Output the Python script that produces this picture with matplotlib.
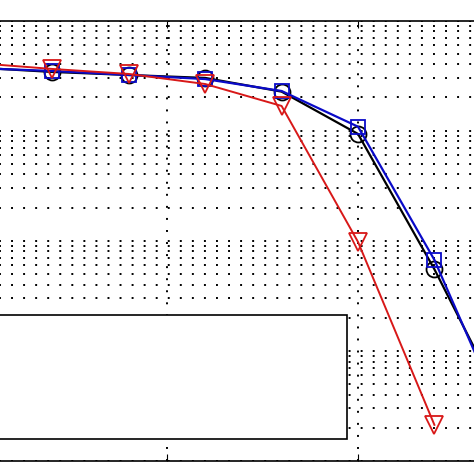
import numpy as np
from matplotlib import pyplot as plt
from matplotlib.patches import Rectangle

# x values (dB) and the three error-rate curves
snr = [0, 2, 4, 6, 8, 10, 12, 14]
ber_black = [0.374, 0.341, 0.320, 0.301, 0.226, 0.0933, 0.00551, 2.37e-4]
ber_blue = [0.370, 0.348, 0.320, 0.294, 0.229, 0.1086, 0.00670, 1.73e-4]
snr_red = [0, 2, 4, 6, 8, 10, 12]
ber_red = [0.411, 0.363, 0.327, 0.265, 0.1675, 0.00976, 2.13e-4]

W = 474
fig = plt.figure(figsize=(4.74, 4.74), dpi=100)
# axes wider than the figure: the picture is a crop of a bigger plot
ax = fig.add_axes([-24 / W, 13 / W, 573 / W, 440.5 / W])

ax.plot(snr, ber_black, color="black", lw=1.6, marker="o", ms=11.5,
        mfc="none", mew=1.3, zorder=3)
ax.plot(snr, ber_blue, color="#0a0ac8", lw=1.6, marker="s", ms=10,
        mfc="none", mew=1.3, zorder=3)
ax.plot(snr_red, ber_red, color="#d81818", lw=1.4, marker="v", ms=13,
        mfc="none", mew=1.3, zorder=3)

ax.set_yscale("log")
ax.set_xlim(0, 15)
ax.set_ylim(1e-4, 1e0)
ax.set_xticks([0, 5, 10, 15])
ax.tick_params(which="both", direction="in", top=True, right=True,
               length=5, labelbottom=False, labelleft=False)
ax.tick_params(which="minor", length=3)

dots = (0, (1, 5.2))
ax.grid(True, which="major", axis="both", color="black",
        linestyle=dots, linewidth=1.4)
ax.grid(True, which="minor", axis="y", color="black",
        linestyle=dots, linewidth=1.4)
for s in ax.spines.values():
    s.set_linewidth(1.2)

# empty legend frame
leg = Rectangle((-10 / W, (W - 439) / W), 357 / W, 124 / W,
                transform=fig.transFigure, facecolor="white",
                edgecolor="black", lw=1.2, zorder=5, clip_on=False)
ax.add_patch(leg)

plt.savefig("out.png", dpi=100)
